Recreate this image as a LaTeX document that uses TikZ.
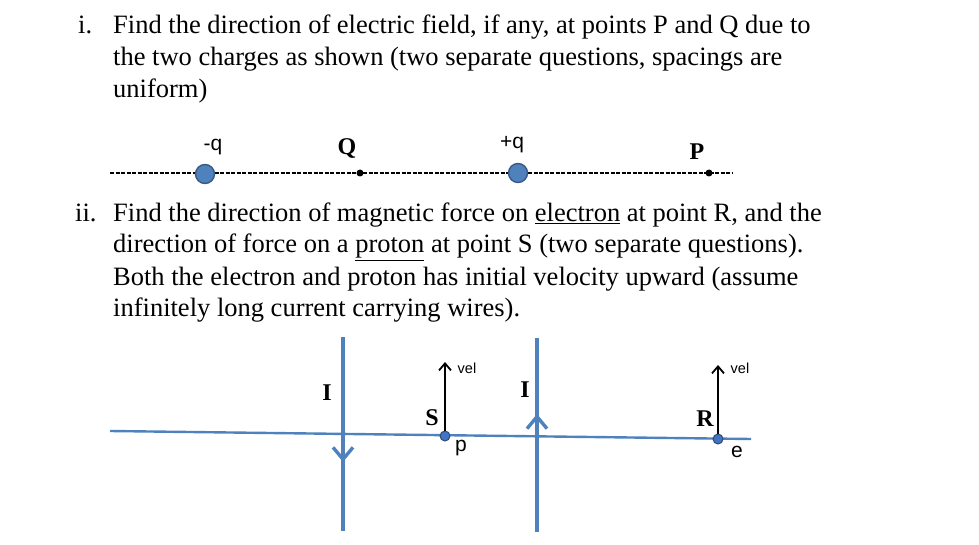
\documentclass[tikz,border=0pt]{standalone}
\usepackage{fontspec}
\setmainfont{Liberation Serif}
\newfontfamily\sansf{Liberation Sans}
\usetikzlibrary{arrows.meta}
\begin{document}
\begin{tikzpicture}[x=1pt,y=-1pt,
  txt/.style={anchor=base west,inner sep=0pt,font=\fontsize{26.5}{31}\selectfont},
  lab/.style={inner sep=0pt,font=\fontsize{24}{24}\selectfont\bfseries},
  slab/.style={inner sep=0pt,font=\sansf\fontsize{21}{21}\selectfont},
  vlab/.style={inner sep=0pt,font=\sansf\fontsize{14.5}{14.5}\selectfont},
  pt/.style={circle,fill=black,minimum size=7pt,inner sep=0pt},
  wire/.style={draw=wireblue,line width=3.4pt},
  vel/.style={draw=black,line width=1.8pt,-{Straight Barb[length=7pt,width=12pt]}}]
\definecolor{wireblue}{RGB}{79,129,189}
\definecolor{dotblue}{RGB}{68,114,196}
\tikzset{charge/.style={circle,fill=wireblue,draw=wireblue!70!black,line width=1.4pt,minimum size=19pt,inner sep=0pt}}
\useasboundingbox (0,0) rectangle (979,545);
\node[txt] (n1) at (78,34) {i.};
\node[txt] (t1) at (113,34) {Find the direction of electric field, if any, at points P and Q due to};
\node[txt] (t2) at (113,66) {the two charges as shown (two separate questions, spacings are};
\node[txt] (t3) at (113,98) {uniform)};
\coordinate (l1a) at (110,173);
\coordinate (l1b) at (732,173);
\draw[line width=1.8pt,dash pattern=on 4pt off 1.5pt] (l1a) -- (l1b);
\node[charge] (mq) at (205,174) {};
\node[pt] (Q) at (360,173) {};
\node[charge] (pq) at (518,173) {};
\node[pt] (P) at (709,173) {};
\node[slab] (lmq) at (213,147) {-q};
\node[lab] (lQ) at (347,149) {Q};
\node[slab] (lpq) at (512,145) {+q};
\node[lab] (lP) at (697,152) {P};
\node[txt] (n2) at (75,222) {ii.};
\node[txt] (u1) at (113,222) {Find the direction of magnetic force on \underline{electron} at point R, and the};
\node[txt] (u2) at (113,253) {direction of force on a \underline{proton} at point S (two separate questions).};
\node[txt] (u3) at (113,285) {Both the electron and proton has initial velocity upward (assume};
\node[txt] (u4) at (113,316) {infinitely long current carrying wires).};
\coordinate (ha) at (110,431);
\coordinate (hb) at (751,439);
\draw[draw=wireblue,line width=2.4pt] (ha) -- (hb);
\coordinate (w1t) at (343,337);
\coordinate (w1m) at (343,462);
\coordinate (w1b) at (343,531);
\draw[wire] (w1t) -- (w1b);
\draw[wire,-{Straight Barb[length=12pt,width=20pt]}] (w1t) -- (w1m);
\coordinate (w2b) at (537,532);
\coordinate (w2m) at (537,414);
\coordinate (w2t) at (537,338);
\draw[wire] (w2b) -- (w2t);
\draw[wire,-{Straight Barb[length=12pt,width=20pt]}] (w2b) -- (w2m);
\node[circle,fill=dotblue,draw=wireblue!60!black,line width=1pt,minimum size=10pt,inner sep=0pt] (S) at (445,436) {};
\node[circle,fill=dotblue,draw=wireblue!60!black,line width=1pt,minimum size=10pt,inner sep=0pt] (R) at (718,439) {};
\coordinate (Sv) at (445,362);
\coordinate (Rv) at (718,365);
\draw[vel] (S) -- (Sv);
\draw[vel] (R) -- (Rv);
\node[lab] (I1) at (327,393) {I};
\node[lab] (I2) at (525,390) {I};
\node[lab] (lS) at (432,418) {S};
\node[lab] (lR) at (705,419) {R};
\node[slab] (lp) at (461,448) {p};
\node[slab] (le) at (737,452) {e};
\node[vlab] (v1) at (467,368) {vel};
\node[vlab] (v2) at (740,368) {vel};
\end{tikzpicture}
\end{document}
